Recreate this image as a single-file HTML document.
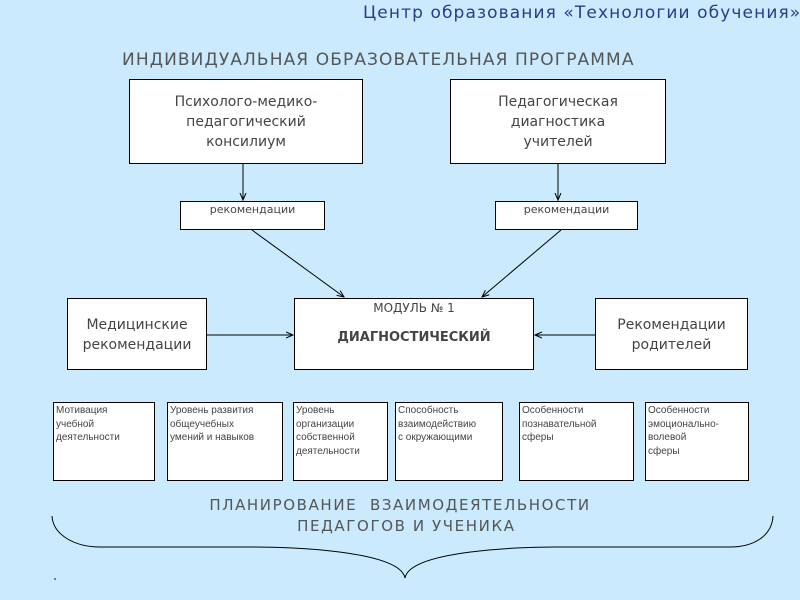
<!DOCTYPE html>
<html><head><meta charset="utf-8"><style>
body{margin:0;width:800px;height:600px;background:#cbeafd;position:relative;overflow:hidden;font-family:"DejaVu Sans","Liberation Sans",sans-serif}
.b{position:absolute;background:#fff;border:1px solid #000;box-sizing:border-box;color:#444;text-align:center}
.s{position:absolute;background:#fff;border:1px solid #000;box-sizing:border-box;color:#444;font-family:"Liberation Sans",sans-serif;font-size:10px;line-height:13.5px;padding:1px 2px}
.t{position:absolute;white-space:nowrap}
</style></head><body>
<div class="t" style="left:363px;top:3px;font-size:17px;letter-spacing:1.1px;color:#2b3a8c">Центр образования «Технологии обучения»</div>
<div class="t" style="left:122px;top:50px;font-size:17px;letter-spacing:1.1px;color:#555">ИНДИВИДУАЛЬНАЯ ОБРАЗОВАТЕЛЬНАЯ ПРОГРАММА</div>
<div class="b" style="left:129px;top:79px;width:234px;height:85px;font-size:14px;line-height:20px;padding-top:12px">Психолого-медико-<br>педагогический<br>консилиум</div>
<div class="b" style="left:450px;top:79px;width:216px;height:85px;font-size:14px;line-height:20px;padding-top:12px">Педагогическая<br>диагностика<br>учителей</div>
<div class="b" style="left:180px;top:201px;width:145px;height:29px;font-size:11px;padding-top:1px">рекомендации</div>
<div class="b" style="left:495px;top:201px;width:143px;height:29px;font-size:11px;padding-top:1px">рекомендации</div>
<div class="b" style="left:67px;top:298px;width:140px;height:72px;font-size:14px;line-height:20px;padding-top:16px">Медицинские<br>рекомендации</div>
<div class="b" style="left:294px;top:298px;width:240px;height:72px;font-size:12px"><div style="margin-top:2px">МОДУЛЬ № 1</div><div style="margin-top:15px;font-size:13px;font-weight:bold">ДИАГНОСТИЧЕСКИЙ</div></div>
<div class="b" style="left:595px;top:298px;width:153px;height:72px;font-size:14px;line-height:20px;padding-top:16px">Рекомендации<br>родителей</div>
<div class="s" style="left:53px;top:402px;width:102px;height:79px">Мотивация<br>учебной<br>деятельности</div>
<div class="s" style="left:167px;top:402px;width:116px;height:79px">Уровень развития<br>общеучебных<br>умений и навыков</div>
<div class="s" style="left:293px;top:402px;width:95px;height:79px">Уровень<br>организации<br>собственной<br>деятельности</div>
<div class="s" style="left:395px;top:402px;width:108px;height:79px">Способность<br>взаимодействию<br>с окружающими</div>
<div class="s" style="left:519px;top:402px;width:115px;height:79px">Особенности<br>познавательной<br>сферы</div>
<div class="s" style="left:645px;top:402px;width:104px;height:79px">Особенности<br>эмоционально-<br>волевой<br>сферы</div>
<div class="t" style="left:0;width:800px;text-align:center;top:495px;font-size:15px;letter-spacing:1.6px;line-height:21px;color:#555">ПЛАНИРОВАНИЕ&nbsp; ВЗАИМОДЕЯТЕЛЬНОСТИ<br>&nbsp;&nbsp;ПЕДАГОГОВ И УЧЕНИКА</div>
<svg width="800" height="600" style="position:absolute;left:0;top:0">
<defs><marker id="a" markerWidth="8" markerHeight="8" refX="7" refY="4" orient="auto" markerUnits="userSpaceOnUse"><path d="M0,1 L7,4 L0,7" fill="none" stroke="#000"/></marker></defs>
<g stroke="#000" stroke-width="1" fill="none">
<line x1="243" y1="164" x2="243" y2="200" marker-end="url(#a)"/>
<line x1="558" y1="164" x2="558" y2="200" marker-end="url(#a)"/>
<line x1="252" y1="230" x2="344" y2="297" marker-end="url(#a)"/>
<line x1="561" y1="230" x2="482" y2="297" marker-end="url(#a)"/>
<line x1="207" y1="335" x2="293" y2="335" marker-end="url(#a)"/>
<line x1="595" y1="335" x2="535" y2="335" marker-end="url(#a)"/>
<path d="M52,516 C53,535 75,547 100,547 L255,547 C285,547 400,550 405,578 C410,550 525,547 555,547 L730,547 C755,547 772,535 773,516"/>
</g>
<circle cx="55" cy="579" r="0.8" fill="#000"/>
</svg>
</body></html>
